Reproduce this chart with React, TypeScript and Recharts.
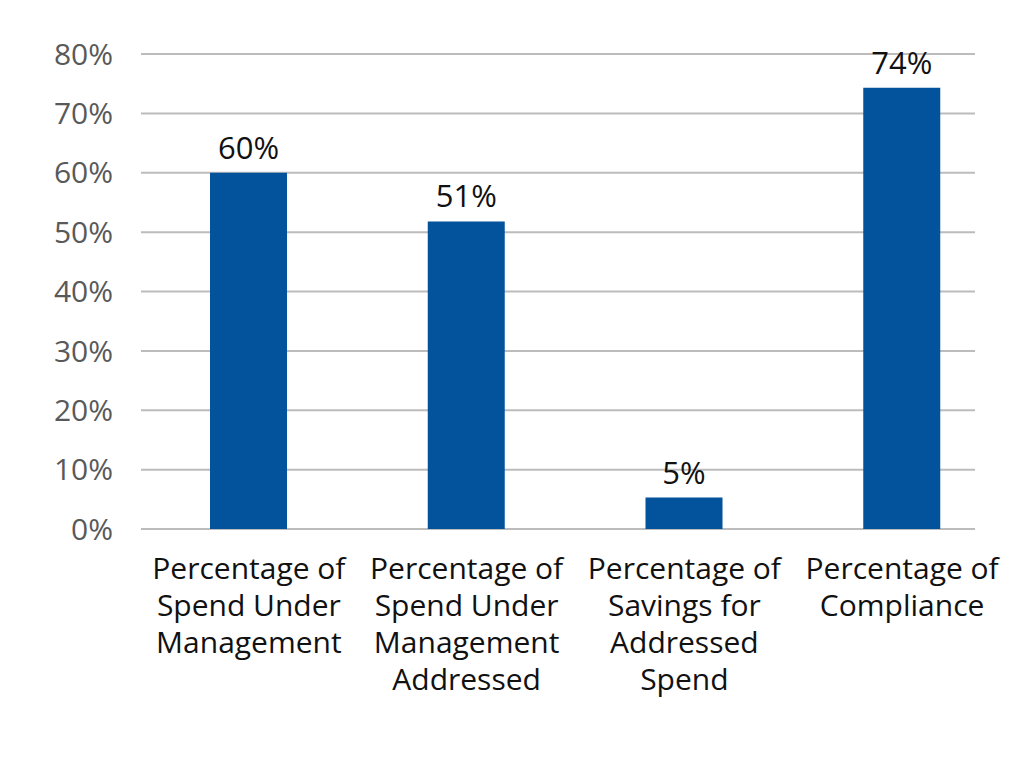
import { BarChart, Bar, XAxis, YAxis, CartesianGrid, LabelList } from "recharts";

const categories = [
  "Percentage of Spend Under Management",
  "Percentage of Spend Under Management Addressed",
  "Percentage of Savings for Addressed Spend",
  "Percentage of Compliance",
];
const categoryLines = [
  ["Percentage of", "Spend Under", "Management"],
  ["Percentage of", "Spend Under", "Management", "Addressed"],
  ["Percentage of", "Savings for", "Addressed", "Spend"],
  ["Percentage of", "Compliance"],
];
const values = [60, 51.8, 5.3, 74.3];
const valueLabels = ["60%", "51%", "5%", "74%"];
const yTicks = [0, 10, 20, 30, 40, 50, 60, 70, 80];

const data = categories.map((name, i) => ({ name, v: values[i], label: valueLabels[i] }));

const font = "'Open Sans', 'Noto Sans', sans-serif";

function CategoryTick(props: any) {
  const { x, y, payload } = props;
  const lines = categoryLines[payload.index] ?? [payload.value];
  return (
    <text x={x} y={y} textAnchor="middle" fill="#111" fontSize={30} fontFamily={font}>
      {lines.map((line, i) => (
        <tspan key={i} x={x} dy={i === 0 ? 30 : 37}>
          {line}
        </tspan>
      ))}
    </text>
  );
}

export default function App() {
  return (
    <div style={{ position: "absolute", left: 0, top: 0, background: "#fff" }}>
      <BarChart
        width={1024}
        height={769}
        data={data}
        margin={{ top: 54, right: 13, bottom: 210, left: 0 }}
        barSize={77}
      >
        <CartesianGrid vertical={false} stroke="#bcbcbc" strokeWidth={2} x={141} width={834} />
        <XAxis
          dataKey="name"
          axisLine={false}
          tickLine={false}
          tickSize={0}
          tickMargin={20}
          interval={0}
          tick={<CategoryTick />}
        />
        <YAxis
          domain={[0, 80]}
          ticks={yTicks}
          width={140}
          axisLine={false}
          tickLine={false}
          tickSize={0}
          tickMargin={27}
          tickFormatter={(v: number) => `${v}%`}
          tick={{ fontSize: 30, fill: "#595959", fontFamily: font }}
        />
        <Bar dataKey="v" fill="#03539C" isAnimationActive={false}>
          <LabelList
            dataKey="label"
            position="top"
            offset={14}
            fill="#111"
            fontSize={31}
            fontFamily={font}
          />
        </Bar>
      </BarChart>
    </div>
  );
}
